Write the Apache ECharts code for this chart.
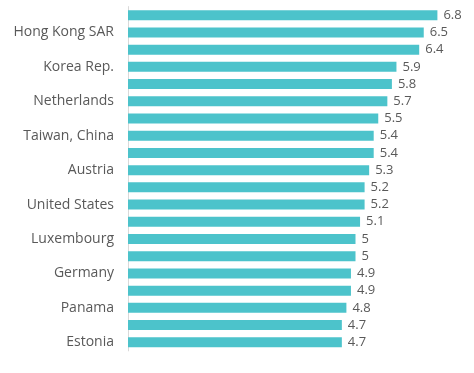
<!DOCTYPE html>
<html>
<head>
<meta charset="utf-8">
<script src="https://cdn.jsdelivr.net/npm/echarts@6/dist/echarts.min.js"></script>
<style>
html,body{margin:0;padding:0;background:#fff;}
#main{width:474px;height:373px;}
</style>
</head>
<body>
<div id="main"></div>
<script>
// Category labels (only every other bar is labelled in the reference)
const categories = ['', 'Hong Kong SAR', '', 'Korea Rep.', '', 'Netherlands', '', 'Taiwan, China', '', 'Austria',
  '', 'United States', '', 'Luxembourg', '', 'Germany', '', 'Panama', '', 'Estonia'];
const values = [6.8, 6.5, 6.4, 5.9, 5.8, 5.7, 5.5, 5.4, 5.4, 5.3, 5.2, 5.2, 5.1, 5, 5, 4.9, 4.9, 4.8, 4.7, 4.7];

const chart = echarts.init(document.getElementById('main'), null, {renderer: 'canvas'});
chart.setOption({
  animation: false,
  backgroundColor: '#ffffff',
  grid: {left: 128, right: 27.5, top: 6.6, bottom: 22.1, containLabel: false},
  xAxis: {
    type: 'value', min: 0, max: 7, show: false
  },
  yAxis: {
    type: 'category',
    data: categories,
    inverse: true,
    axisLine: {show: true, lineStyle: {color: '#d9d9d9', width: 1}},
    axisTick: {show: false},
    axisLabel: {
      interval: 0, margin: 14, color: '#595959',
      fontFamily: 'Open Sans', fontSize: 14
    }
  },
  series: [{
    type: 'bar',
    data: values,
    barWidth: 10,
    itemStyle: {color: '#4cc3cb'},
    label: {
      show: true, position: 'right', distance: 6,
      color: '#595959', fontFamily: 'Open Sans', fontSize: 13
    }
  }]
});
</script>
</body>
</html>
